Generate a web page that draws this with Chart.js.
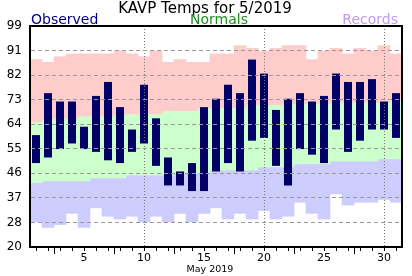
<!DOCTYPE html>
<html>
<head>
<meta charset="utf-8">
<script src="https://cdn.jsdelivr.net/npm/chart.js@4.4.1/dist/chart.umd.min.js"></script>
<style>
  html, body { margin: 0; padding: 0; background: #fff; }
</style>
</head>
<body>
<canvas id="tempChart" width="412" height="276"></canvas>
<script>
// May 2019 daily temperatures, KAVP
const days = [1, 2, 3, 4, 5, 6, 7, 8, 9, 10, 11, 12, 13, 14, 15, 16, 17, 18, 19, 20, 21, 22, 23, 24, 25, 26, 27, 28, 29, 30, 31];
const obsHigh = [60, 75, 72, 72, 63, 74, 79, 70, 62, 78, 66, 52, 47, 50, 70, 73, 78, 75, 87, 82, 69, 73, 75, 72, 74, 82, 79, 79, 80, 72, 75];
const obsLow = [50, 52, 55, 57, 55, 54, 51, 50, 54, 57, 49, 42, 42, 40, 40, 47, 50, 47, 58, 59, 49, 42, 55, 53, 50, 62, 54, 58, 62, 62, 59];
const normHigh = [64.8, 65.8, 65.8, 65.8, 66.8, 66.8, 66.8, 67.6, 67.6, 67.6, 67.6, 68.7, 68.7, 68.7, 69.7, 69.7, 69.7, 69.7, 70.8, 70.8, 70.8, 71.3, 71.3, 71.3, 71.3, 71.8, 71.8, 71.8, 71.8, 71.8, 72.8];
const normLow = [43.0, 43.6, 43.6, 43.6, 43.6, 44.7, 44.7, 44.7, 45.7, 45.7, 45.7, 45.7, 46.5, 46.5, 46.5, 47.5, 47.5, 47.5, 47.5, 48.6, 48.6, 48.6, 49.7, 49.7, 49.7, 50.7, 50.7, 50.7, 50.7, 51.5, 51.5];
const recHigh = [87, 86, 88, 89, 89, 89, 89, 90, 89, 88, 90, 86, 87, 86, 86, 89, 89, 92, 91, 90, 91, 92, 92, 87, 90, 91, 89, 91, 90, 92, 89];
const recLow = [29, 27, 28, 32, 27, 34, 31, 30, 31, 29, 31, 29, 32, 29, 32, 34, 30, 32, 30, 33, 30, 31, 36, 32, 30, 39, 35, 36, 36, 37, 36];
const yTickLabels = ['20', '28', '37', '46', '55', '64', '73', '82', '91', '99'];
const xTickLabels = ['5', '10', '15', '20', '25', '30'];

Chart.defaults.font.family = "'DejaVu Sans', sans-serif";
Chart.defaults.color = '#000';

// floating bar data: one [low, high] span per day
function spans(lo, hi) {
    return days.map((d, i) => ({ x: d, y: [lo[i], hi[i]] }));
}

// frame (top/right edges) and the header texts
const frameAndText = {
    id: 'frameAndText',
    afterDraw(chart) {
        const { ctx, chartArea: a } = chart;
        ctx.save();
        ctx.strokeStyle = '#000';
        ctx.lineWidth = 2;
        ctx.beginPath();
        ctx.moveTo(a.left, a.top);
        ctx.lineTo(a.right, a.top);
        ctx.lineTo(a.right, a.bottom);
        ctx.stroke();

        ctx.textBaseline = 'alphabetic';
        ctx.font = "15px 'DejaVu Sans'";
        ctx.fillStyle = '#000';
        ctx.textAlign = 'center';
        ctx.fillText('KAVP Temps for 5/2019', 205, 13);

        ctx.font = "14px 'DejaVu Sans'";
        ctx.textAlign = 'left';
        ctx.fillStyle = '#000080';
        ctx.fillText('Observed', 31, 24);
        ctx.textAlign = 'center';
        ctx.fillStyle = '#228b22';
        ctx.fillText('Normals', 219, 24);
        ctx.textAlign = 'right';
        ctx.fillStyle = '#c09af0';
        ctx.fillText('Records', 398, 24);

        ctx.font = "9.5px 'DejaVu Sans'";
        ctx.textAlign = 'center';
        ctx.fillStyle = '#000';
        ctx.fillText('May 2019', 210, 272);
        ctx.restore();
    }
};

const bandOpts = { barPercentage: 1, categoryPercentage: 1, grouped: false, borderWidth: 0, order: 1 };

const ctx = document.getElementById('tempChart').getContext('2d');
const tempChart = new Chart(ctx, {
    type: 'bar',
    data: {
        datasets: [
            {
                label: 'Observed',
                data: spans(obsLow, obsHigh),
                backgroundColor: '#000066',
                barPercentage: 0.67,
                categoryPercentage: 1,
                grouped: false,
                borderWidth: 0,
                order: 0
            },
            Object.assign({ label: 'Record high', data: spans(normHigh, recHigh), backgroundColor: '#ffcccc' }, bandOpts),
            Object.assign({ label: 'Normals', data: spans(normLow, normHigh), backgroundColor: '#ccffcc' }, bandOpts),
            Object.assign({ label: 'Record low', data: spans(recLow, normLow), backgroundColor: '#ccccff' }, bandOpts)
        ]
    },
    options: {
        responsive: false,
        animation: false,
        devicePixelRatio: 1,
        layout: { padding: { top: 26, right: 10, left: 0, bottom: 0 } },
        scales: {
            x: {
                type: 'linear',
                min: 0.5,
                max: 31.5,
                offset: false,
                afterBuildTicks: (s) => { s.ticks = days.map(d => ({ value: d })); },
                afterFit: (s) => { s.height = 29; },
                ticks: {
                    autoSkip: false,
                    maxRotation: 0,
                    padding: 1,
                    font: { size: 11 },
                    callback: (v) => xTickLabels.includes(String(v)) ? String(v) : ''
                },
                grid: {
                    z: 1,
                    offset: false,
                    color: (c) => (c.tick && c.tick.value % 10 === 0) ? '#777' : 'rgba(0,0,0,0)',
                    tickColor: '#000',
                    tickLength: 4,
                    tickWidth: 1,
                    lineWidth: 1,
                    tickBorderDash: []
                },
                border: { z: 1, color: '#000', width: 2, dash: [1, 2] }
            },
            // longer marks under the labelled days
            xMajor: {
                type: 'linear',
                axis: 'x',
                position: { y: 20 },
                min: 0.5,
                max: 31.5,
                offset: false,
                afterBuildTicks: (s) => { s.ticks = xTickLabels.map(t => ({ value: Number(t) })); },
                ticks: { display: false },
                grid: {
                    z: 1,
                    drawOnChartArea: false,
                    tickColor: '#000',
                    tickLength: 7,
                    tickWidth: 1,
                    tickBorderDash: []
                },
                border: { display: false }
            },
            y: {
                type: 'linear',
                min: 20,
                max: 99,
                afterBuildTicks: (s) => { s.ticks = yTickLabels.map((t, i) => ({ value: 20 + (79 * i) / 9 })); },
                afterFit: (s) => { s.width = 30; },
                ticks: {
                    padding: 8,
                    font: { size: 12 },
                    callback: (v, i) => yTickLabels[i]
                },
                grid: {
                    z: 1,
                    drawTicks: false,
                    lineWidth: 1,
                    color: (c) => (c.index === 0 || c.index === yTickLabels.length - 1) ? 'rgba(0,0,0,0)' : '#999'
                },
                border: { z: 1, color: '#000', width: 2, dash: [4, 3] }
            }
        },
        plugins: {
            legend: { display: false },
            tooltip: { enabled: false }
        }
    },
    plugins: [frameAndText]
});
</script>
</body>
</html>
